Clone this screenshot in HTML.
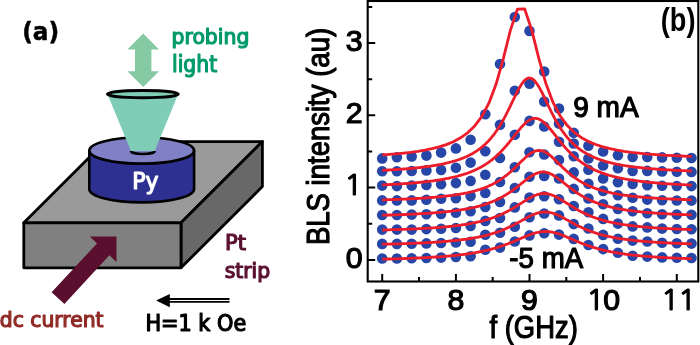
<!DOCTYPE html>
<html><head><meta charset="utf-8"><style>
html,body{margin:0;padding:0;background:#fff;width:700px;height:345px;overflow:hidden}
svg{display:block}
.ta{font-family:"DejaVu Sans Condensed","DejaVu Sans",sans-serif;font-stretch:condensed}
.ar{font-family:"Liberation Sans",Arial,sans-serif}
</style></head><body>
<svg width="700" height="345" viewBox="0 0 700 345">
<!-- ===== panel (a) ===== -->
<!-- box -->
<g stroke="#000" stroke-width="2.8" stroke-linejoin="round">
<polygon points="23.8,222.8 181,222.8 262.4,141.6 105.2,141.6" fill="#9a9a9a"/>
<polygon points="181,222.8 262.4,141.6 262.4,186.6 181,267.8" fill="#686868"/>
<rect x="23.8" y="222.8" width="157.2" height="45" fill="#808080"/>
</g>
<!-- cylinder -->
<g stroke="#000" stroke-width="2.6">
<path d="M89.3,150.4 A52.4,13.1 0 0 0 194.1,150.4 V189.3 A52.4,13.1 0 0 1 89.3,189.3 Z" fill="#2d3090"/>
<ellipse cx="141.7" cy="150.4" rx="52.4" ry="13.1" fill="#8080c6"/>
</g>
<!-- cone -->
<polygon points="107.4,94.1 178.3,94.1 154.75,151 130.95,151" fill="#7fcdb6"/>
<path d="M130.95,151 A11.9,3 0 0 0 154.75,151" fill="none" stroke="#000" stroke-width="2.6"/>
<ellipse cx="142.85" cy="94.1" rx="35.45" ry="3.7" fill="#7fcdb6" stroke="#000" stroke-width="3"/>
<!-- double arrow -->
<polygon points="143.2,33.5 159,49.4 151.4,49.4 151.4,71.3 159,71.3 143.2,87 127.4,71.3 135,71.3 135,49.4 127.4,49.4" fill="#86caa4"/>
<!-- dc arrow -->
<polygon points="116.5,236.6 89.9,236.6 97,243.4 51.6,292.3 64.4,303.9 109.4,255.3 116.5,262.1" fill="#5a0f2e"/>
<!-- H arrow -->
<polygon points="156.1,300.6 169.8,294.1 169.8,307.3" fill="#000"/>
<path d="M168,299 H229.5 M168,301.9 H229.5" stroke="#000" stroke-width="1.8"/>

<!-- ===== panel (b) ===== -->
<g fill="#2747a8">
<circle cx="382.2" cy="158.4" r="5.3"/>
<circle cx="396.9" cy="157.2" r="5.3"/>
<circle cx="411.7" cy="156.5" r="5.3"/>
<circle cx="426.4" cy="155.6" r="5.3"/>
<circle cx="441.1" cy="152.6" r="5.3"/>
<circle cx="455.9" cy="148.4" r="5.3"/>
<circle cx="470.6" cy="139.8" r="5.3"/>
<circle cx="485.3" cy="114.3" r="5.3"/>
<circle cx="500.0" cy="64.0" r="5.3"/>
<circle cx="514.8" cy="17.0" r="5.3"/>
<circle cx="529.5" cy="30.9" r="5.3"/>
<circle cx="544.2" cy="71.6" r="5.3"/>
<circle cx="559.0" cy="108.5" r="5.3"/>
<circle cx="573.7" cy="132.7" r="5.3"/>
<circle cx="588.4" cy="145.8" r="5.3"/>
<circle cx="603.1" cy="151.5" r="5.3"/>
<circle cx="617.9" cy="155.2" r="5.3"/>
<circle cx="632.6" cy="157.0" r="5.3"/>
<circle cx="647.3" cy="157.0" r="5.3"/>
<circle cx="662.1" cy="157.4" r="5.3"/>
<circle cx="676.8" cy="157.7" r="5.3"/>
<circle cx="691.5" cy="158.0" r="5.3"/>
<circle cx="382.2" cy="171.3" r="5.3"/>
<circle cx="396.9" cy="171.3" r="5.3"/>
<circle cx="411.7" cy="171.0" r="5.3"/>
<circle cx="426.4" cy="170.4" r="5.3"/>
<circle cx="441.1" cy="169.9" r="5.3"/>
<circle cx="455.9" cy="167.8" r="5.3"/>
<circle cx="470.6" cy="162.6" r="5.3"/>
<circle cx="485.3" cy="151.3" r="5.3"/>
<circle cx="500.0" cy="124.8" r="5.3"/>
<circle cx="514.8" cy="90.8" r="5.3"/>
<circle cx="529.5" cy="83.8" r="5.3"/>
<circle cx="544.2" cy="101.6" r="5.3"/>
<circle cx="559.0" cy="123.6" r="5.3"/>
<circle cx="573.7" cy="143.5" r="5.3"/>
<circle cx="588.4" cy="158.5" r="5.3"/>
<circle cx="603.1" cy="165.5" r="5.3"/>
<circle cx="617.9" cy="168.3" r="5.3"/>
<circle cx="632.6" cy="170.9" r="5.3"/>
<circle cx="647.3" cy="170.9" r="5.3"/>
<circle cx="662.1" cy="171.4" r="5.3"/>
<circle cx="676.8" cy="171.7" r="5.3"/>
<circle cx="691.5" cy="171.9" r="5.3"/>
<circle cx="382.2" cy="185.6" r="5.3"/>
<circle cx="396.9" cy="186.1" r="5.3"/>
<circle cx="411.7" cy="185.6" r="5.3"/>
<circle cx="426.4" cy="184.9" r="5.3"/>
<circle cx="441.1" cy="184.3" r="5.3"/>
<circle cx="455.9" cy="183.1" r="5.3"/>
<circle cx="470.6" cy="180.9" r="5.3"/>
<circle cx="485.3" cy="174.8" r="5.3"/>
<circle cx="500.0" cy="158.0" r="5.3"/>
<circle cx="514.8" cy="134.8" r="5.3"/>
<circle cx="529.5" cy="120.9" r="5.3"/>
<circle cx="544.2" cy="126.5" r="5.3"/>
<circle cx="559.0" cy="141.7" r="5.3"/>
<circle cx="573.7" cy="156.2" r="5.3"/>
<circle cx="588.4" cy="169.8" r="5.3"/>
<circle cx="603.1" cy="178.5" r="5.3"/>
<circle cx="617.9" cy="182.2" r="5.3"/>
<circle cx="632.6" cy="183.9" r="5.3"/>
<circle cx="647.3" cy="185.3" r="5.3"/>
<circle cx="662.1" cy="185.8" r="5.3"/>
<circle cx="676.8" cy="186.0" r="5.3"/>
<circle cx="691.5" cy="186.1" r="5.3"/>
<circle cx="382.2" cy="200.4" r="5.3"/>
<circle cx="396.9" cy="200.4" r="5.3"/>
<circle cx="411.7" cy="200.4" r="5.3"/>
<circle cx="426.4" cy="199.8" r="5.3"/>
<circle cx="441.1" cy="198.7" r="5.3"/>
<circle cx="455.9" cy="198.3" r="5.3"/>
<circle cx="470.6" cy="196.1" r="5.3"/>
<circle cx="485.3" cy="193.0" r="5.3"/>
<circle cx="500.0" cy="182.0" r="5.3"/>
<circle cx="514.8" cy="167.2" r="5.3"/>
<circle cx="529.5" cy="152.2" r="5.3"/>
<circle cx="544.2" cy="154.5" r="5.3"/>
<circle cx="559.0" cy="160.0" r="5.3"/>
<circle cx="573.7" cy="172.4" r="5.3"/>
<circle cx="588.4" cy="183.7" r="5.3"/>
<circle cx="603.1" cy="190.9" r="5.3"/>
<circle cx="617.9" cy="195.2" r="5.3"/>
<circle cx="632.6" cy="197.8" r="5.3"/>
<circle cx="647.3" cy="199.6" r="5.3"/>
<circle cx="662.1" cy="200.2" r="5.3"/>
<circle cx="676.8" cy="200.5" r="5.3"/>
<circle cx="691.5" cy="200.6" r="5.3"/>
<circle cx="382.2" cy="215.0" r="5.3"/>
<circle cx="396.9" cy="215.0" r="5.3"/>
<circle cx="411.7" cy="214.6" r="5.3"/>
<circle cx="426.4" cy="214.3" r="5.3"/>
<circle cx="441.1" cy="213.9" r="5.3"/>
<circle cx="455.9" cy="212.8" r="5.3"/>
<circle cx="470.6" cy="211.3" r="5.3"/>
<circle cx="485.3" cy="207.0" r="5.3"/>
<circle cx="500.0" cy="202.0" r="5.3"/>
<circle cx="514.8" cy="188.0" r="5.3"/>
<circle cx="529.5" cy="176.7" r="5.3"/>
<circle cx="544.2" cy="175.9" r="5.3"/>
<circle cx="559.0" cy="178.5" r="5.3"/>
<circle cx="573.7" cy="188.9" r="5.3"/>
<circle cx="588.4" cy="198.5" r="5.3"/>
<circle cx="603.1" cy="204.3" r="5.3"/>
<circle cx="617.9" cy="208.9" r="5.3"/>
<circle cx="632.6" cy="211.3" r="5.3"/>
<circle cx="647.3" cy="213.2" r="5.3"/>
<circle cx="662.1" cy="214.2" r="5.3"/>
<circle cx="676.8" cy="214.6" r="5.3"/>
<circle cx="691.5" cy="214.8" r="5.3"/>
<circle cx="382.2" cy="229.6" r="5.3"/>
<circle cx="396.9" cy="229.6" r="5.3"/>
<circle cx="411.7" cy="229.6" r="5.3"/>
<circle cx="426.4" cy="229.1" r="5.3"/>
<circle cx="441.1" cy="228.7" r="5.3"/>
<circle cx="455.9" cy="228.0" r="5.3"/>
<circle cx="470.6" cy="225.9" r="5.3"/>
<circle cx="485.3" cy="220.9" r="5.3"/>
<circle cx="500.0" cy="218.0" r="5.3"/>
<circle cx="514.8" cy="207.4" r="5.3"/>
<circle cx="529.5" cy="197.6" r="5.3"/>
<circle cx="544.2" cy="196.3" r="5.3"/>
<circle cx="559.0" cy="199.3" r="5.3"/>
<circle cx="573.7" cy="206.0" r="5.3"/>
<circle cx="588.4" cy="212.2" r="5.3"/>
<circle cx="603.1" cy="218.9" r="5.3"/>
<circle cx="617.9" cy="223.6" r="5.3"/>
<circle cx="632.6" cy="226.4" r="5.3"/>
<circle cx="647.3" cy="227.4" r="5.3"/>
<circle cx="662.1" cy="228.6" r="5.3"/>
<circle cx="676.8" cy="229.0" r="5.3"/>
<circle cx="691.5" cy="229.2" r="5.3"/>
<circle cx="382.2" cy="243.9" r="5.3"/>
<circle cx="396.9" cy="243.9" r="5.3"/>
<circle cx="411.7" cy="243.7" r="5.3"/>
<circle cx="426.4" cy="243.4" r="5.3"/>
<circle cx="441.1" cy="243.0" r="5.3"/>
<circle cx="455.9" cy="242.5" r="5.3"/>
<circle cx="470.6" cy="241.7" r="5.3"/>
<circle cx="485.3" cy="234.8" r="5.3"/>
<circle cx="500.0" cy="232.8" r="5.3"/>
<circle cx="514.8" cy="226.7" r="5.3"/>
<circle cx="529.5" cy="217.2" r="5.3"/>
<circle cx="544.2" cy="213.5" r="5.3"/>
<circle cx="559.0" cy="215.4" r="5.3"/>
<circle cx="573.7" cy="224.1" r="5.3"/>
<circle cx="588.4" cy="228.5" r="5.3"/>
<circle cx="603.1" cy="234.9" r="5.3"/>
<circle cx="617.9" cy="238.7" r="5.3"/>
<circle cx="632.6" cy="240.6" r="5.3"/>
<circle cx="647.3" cy="241.5" r="5.3"/>
<circle cx="662.1" cy="242.8" r="5.3"/>
<circle cx="676.8" cy="243.3" r="5.3"/>
<circle cx="691.5" cy="243.6" r="5.3"/>
<circle cx="382.2" cy="258.5" r="5.3"/>
<circle cx="396.9" cy="258.5" r="5.3"/>
<circle cx="411.7" cy="258.3" r="5.3"/>
<circle cx="426.4" cy="258.0" r="5.3"/>
<circle cx="441.1" cy="257.6" r="5.3"/>
<circle cx="455.9" cy="257.0" r="5.3"/>
<circle cx="470.6" cy="256.3" r="5.3"/>
<circle cx="485.3" cy="249.8" r="5.3"/>
<circle cx="500.0" cy="247.6" r="5.3"/>
<circle cx="514.8" cy="241.5" r="5.3"/>
<circle cx="529.5" cy="235.4" r="5.3"/>
<circle cx="544.2" cy="233.2" r="5.3"/>
<circle cx="559.0" cy="234.6" r="5.3"/>
<circle cx="573.7" cy="238.9" r="5.3"/>
<circle cx="588.4" cy="245.0" r="5.3"/>
<circle cx="603.1" cy="249.1" r="5.3"/>
<circle cx="617.9" cy="252.8" r="5.3"/>
<circle cx="632.6" cy="255.7" r="5.3"/>
<circle cx="647.3" cy="256.6" r="5.3"/>
<circle cx="662.1" cy="257.4" r="5.3"/>
<circle cx="676.8" cy="257.8" r="5.3"/>
<circle cx="691.5" cy="258.0" r="5.3"/>
</g>
<g fill="none" stroke="#ec1c2a" stroke-width="2.8" stroke-linejoin="round">
<path d="M382.2,154.9 L389.3,154.4 L396.4,153.8 L403.6,153.1 L410.7,152.3 L417.8,151.3 L424.9,150.1 L432.0,148.7 L439.1,146.9 L446.3,144.6 L453.4,141.7 L460.5,137.8 L467.6,132.8 L474.7,125.9 L481.9,116.3 L489.0,102.9 L496.1,84.1 L503.2,59.1 L510.3,30.6 L517.4,9.1 L524.6,8.8 L531.7,29.9 L538.8,58.4 L545.9,83.5 L553.0,102.4 L560.2,116.0 L567.3,125.6 L574.4,132.6 L581.5,137.7 L588.6,141.6 L595.7,144.5 L602.9,146.8 L610.0,148.6 L617.1,150.1 L624.2,151.3 L631.3,152.3 L638.4,153.1 L645.6,153.8 L652.7,154.3 L659.8,154.8 L666.9,155.3 L674.0,155.7 L681.2,156.0 L688.3,156.3 L691.9,156.4"/>
<path d="M382.2,170.3 L383.2,170.3 L384.2,170.2 L385.2,170.2 L386.2,170.1 L387.2,170.1 L388.2,170.0 L389.2,170.0 L390.2,169.9 L391.2,169.8 L392.2,169.8 L393.2,169.7 L394.2,169.7 L395.2,169.6 L396.2,169.5 L397.2,169.5 L398.2,169.4 L399.2,169.3 L400.2,169.3 L401.2,169.2 L402.2,169.1 L403.2,169.0 L404.2,169.0 L405.2,168.9 L406.2,168.8 L407.2,168.7 L408.2,168.6 L409.2,168.6 L410.2,168.5 L411.2,168.4 L412.2,168.3 L413.2,168.2 L414.2,168.1 L415.2,168.0 L416.2,167.9 L417.2,167.8 L418.2,167.7 L419.2,167.6 L420.2,167.5 L421.2,167.4 L422.2,167.2 L423.2,167.1 L424.2,167.0 L425.2,166.9 L426.2,166.7 L427.2,166.6 L428.2,166.5 L429.2,166.3 L430.2,166.2 L431.2,166.0 L432.2,165.9 L433.2,165.7 L434.2,165.6 L435.2,165.4 L436.2,165.2 L437.2,165.0 L438.2,164.9 L439.2,164.7 L440.2,164.5 L441.2,164.3 L442.2,164.1 L443.2,163.9 L444.2,163.7 L445.2,163.4 L446.2,163.2 L447.2,163.0 L448.2,162.7 L449.2,162.5 L450.2,162.2 L451.2,162.0 L452.2,161.7 L453.2,161.4 L454.2,161.1 L455.2,160.8 L456.2,160.5 L457.2,160.2 L458.2,159.8 L459.2,159.5 L460.2,159.1 L461.2,158.7 L462.2,158.4 L463.2,158.0 L464.2,157.5 L465.2,157.1 L466.2,156.7 L467.2,156.2 L468.2,155.7 L469.2,155.2 L470.2,154.7 L471.2,154.2 L472.2,153.7 L473.2,153.1 L474.2,152.5 L475.2,151.9 L476.2,151.2 L477.2,150.6 L478.2,149.9 L479.2,149.1 L480.2,148.4 L481.2,147.6 L482.2,146.8 L483.2,145.9 L484.2,145.1 L485.2,144.2 L486.2,143.2 L487.2,142.2 L488.2,141.2 L489.2,140.1 L490.2,139.0 L491.2,137.8 L492.2,136.6 L493.2,135.4 L494.2,134.1 L495.2,132.7 L496.2,131.3 L497.2,129.9 L498.2,128.3 L499.2,126.8 L500.2,125.2 L501.2,123.5 L502.2,121.8 L503.2,120.0 L504.2,118.2 L505.2,116.3 L506.2,114.4 L507.2,112.4 L508.2,110.4 L509.2,108.3 L510.2,106.3 L511.2,104.2 L512.2,102.1 L513.2,100.0 L514.2,97.9 L515.2,95.8 L516.2,93.8 L517.2,91.8 L518.2,89.9 L519.2,88.1 L520.2,86.4 L521.2,84.8 L522.2,83.3 L523.2,82.0 L524.2,80.8 L525.2,79.9 L526.2,79.1 L527.2,78.5 L528.2,78.1 L529.2,78.0 L530.2,78.1 L531.2,78.3 L532.2,78.8 L533.2,79.5 L534.2,80.4 L535.2,81.5 L536.2,82.8 L537.2,84.2 L538.2,85.7 L539.2,87.4 L540.2,89.2 L541.2,91.1 L542.2,93.0 L543.2,95.0 L544.2,97.1 L545.2,99.1 L546.2,101.2 L547.2,103.3 L548.2,105.4 L549.2,107.5 L550.2,109.6 L551.2,111.6 L552.2,113.6 L553.2,115.5 L554.2,117.4 L555.2,119.3 L556.2,121.1 L557.2,122.8 L558.2,124.5 L559.2,126.1 L560.2,127.7 L561.2,129.3 L562.2,130.7 L563.2,132.2 L564.2,133.5 L565.2,134.9 L566.2,136.1 L567.2,137.4 L568.2,138.5 L569.2,139.7 L570.2,140.8 L571.2,141.8 L572.2,142.8 L573.2,143.8 L574.2,144.7 L575.2,145.6 L576.2,146.5 L577.2,147.3 L578.2,148.1 L579.2,148.8 L580.2,149.6 L581.2,150.3 L582.2,151.0 L583.2,151.6 L584.2,152.2 L585.2,152.8 L586.2,153.4 L587.2,154.0 L588.2,154.5 L589.2,155.0 L590.2,155.5 L591.2,156.0 L592.2,156.5 L593.2,156.9 L594.2,157.4 L595.2,157.8 L596.2,158.2 L597.2,158.6 L598.2,159.0 L599.2,159.3 L600.2,159.7 L601.2,160.0 L602.2,160.4 L603.2,160.7 L604.2,161.0 L605.2,161.3 L606.2,161.6 L607.2,161.8 L608.2,162.1 L609.2,162.4 L610.2,162.6 L611.2,162.9 L612.2,163.1 L613.2,163.4 L614.2,163.6 L615.2,163.8 L616.2,164.0 L617.2,164.2 L618.2,164.4 L619.2,164.6 L620.2,164.8 L621.2,165.0 L622.2,165.2 L623.2,165.3 L624.2,165.5 L625.2,165.7 L626.2,165.8 L627.2,166.0 L628.2,166.1 L629.2,166.3 L630.2,166.4 L631.2,166.5 L632.2,166.7 L633.2,166.8 L634.2,166.9 L635.2,167.1 L636.2,167.2 L637.2,167.3 L638.2,167.4 L639.2,167.5 L640.2,167.6 L641.2,167.7 L642.2,167.9 L643.2,168.0 L644.2,168.1 L645.2,168.2 L646.2,168.2 L647.2,168.3 L648.2,168.4 L649.2,168.5 L650.2,168.6 L651.2,168.7 L652.2,168.8 L653.2,168.9 L654.2,168.9 L655.2,169.0 L656.2,169.1 L657.2,169.2 L658.2,169.2 L659.2,169.3 L660.2,169.4 L661.2,169.4 L662.2,169.5 L663.2,169.6 L664.2,169.6 L665.2,169.7 L666.2,169.8 L667.2,169.8 L668.2,169.9 L669.2,169.9 L670.2,170.0 L671.2,170.1 L672.2,170.1 L673.2,170.2 L674.2,170.2 L675.2,170.3 L676.2,170.3 L677.2,170.4 L678.2,170.4 L679.2,170.5 L680.2,170.5 L681.2,170.5 L682.2,170.6 L683.2,170.6 L684.2,170.7 L685.2,170.7 L686.2,170.8 L687.2,170.8 L688.2,170.8 L689.2,170.9 L690.2,170.9 L691.2,171.0 L691.9,171.0"/>
<path d="M382.2,184.9 L383.2,184.9 L384.2,184.8 L385.2,184.8 L386.2,184.7 L387.2,184.7 L388.2,184.6 L389.2,184.6 L390.2,184.5 L391.2,184.5 L392.2,184.4 L393.2,184.4 L394.2,184.3 L395.2,184.2 L396.2,184.2 L397.2,184.1 L398.2,184.1 L399.2,184.0 L400.2,183.9 L401.2,183.9 L402.2,183.8 L403.2,183.7 L404.2,183.7 L405.2,183.6 L406.2,183.5 L407.2,183.5 L408.2,183.4 L409.2,183.3 L410.2,183.2 L411.2,183.1 L412.2,183.1 L413.2,183.0 L414.2,182.9 L415.2,182.8 L416.2,182.7 L417.2,182.6 L418.2,182.5 L419.2,182.4 L420.2,182.3 L421.2,182.2 L422.2,182.1 L423.2,182.0 L424.2,181.9 L425.2,181.8 L426.2,181.7 L427.2,181.6 L428.2,181.5 L429.2,181.3 L430.2,181.2 L431.2,181.1 L432.2,181.0 L433.2,180.8 L434.2,180.7 L435.2,180.5 L436.2,180.4 L437.2,180.2 L438.2,180.1 L439.2,179.9 L440.2,179.8 L441.2,179.6 L442.2,179.4 L443.2,179.3 L444.2,179.1 L445.2,178.9 L446.2,178.7 L447.2,178.5 L448.2,178.3 L449.2,178.1 L450.2,177.9 L451.2,177.7 L452.2,177.5 L453.2,177.2 L454.2,177.0 L455.2,176.8 L456.2,176.5 L457.2,176.3 L458.2,176.0 L459.2,175.7 L460.2,175.4 L461.2,175.1 L462.2,174.8 L463.2,174.5 L464.2,174.2 L465.2,173.9 L466.2,173.6 L467.2,173.2 L468.2,172.8 L469.2,172.5 L470.2,172.1 L471.2,171.7 L472.2,171.3 L473.2,170.9 L474.2,170.4 L475.2,170.0 L476.2,169.5 L477.2,169.0 L478.2,168.5 L479.2,168.0 L480.2,167.5 L481.2,166.9 L482.2,166.4 L483.2,165.8 L484.2,165.2 L485.2,164.6 L486.2,163.9 L487.2,163.3 L488.2,162.6 L489.2,161.9 L490.2,161.1 L491.2,160.4 L492.2,159.6 L493.2,158.8 L494.2,157.9 L495.2,157.1 L496.2,156.2 L497.2,155.3 L498.2,154.3 L499.2,153.4 L500.2,152.4 L501.2,151.4 L502.2,150.3 L503.2,149.2 L504.2,148.1 L505.2,147.0 L506.2,145.9 L507.2,144.7 L508.2,143.5 L509.2,142.3 L510.2,141.0 L511.2,139.8 L512.2,138.5 L513.2,137.3 L514.2,136.0 L515.2,134.7 L516.2,133.5 L517.2,132.2 L518.2,131.0 L519.2,129.8 L520.2,128.6 L521.2,127.4 L522.2,126.3 L523.2,125.2 L524.2,124.2 L525.2,123.2 L526.2,122.3 L527.2,121.5 L528.2,120.8 L529.2,120.2 L530.2,119.6 L531.2,119.1 L532.2,118.8 L533.2,118.5 L534.2,118.4 L535.2,118.4 L536.2,118.4 L537.2,118.6 L538.2,118.9 L539.2,119.3 L540.2,119.8 L541.2,120.4 L542.2,121.1 L543.2,121.8 L544.2,122.7 L545.2,123.6 L546.2,124.6 L547.2,125.6 L548.2,126.7 L549.2,127.9 L550.2,129.0 L551.2,130.2 L552.2,131.5 L553.2,132.7 L554.2,134.0 L555.2,135.2 L556.2,136.5 L557.2,137.8 L558.2,139.0 L559.2,140.3 L560.2,141.5 L561.2,142.8 L562.2,144.0 L563.2,145.2 L564.2,146.3 L565.2,147.5 L566.2,148.6 L567.2,149.7 L568.2,150.7 L569.2,151.8 L570.2,152.8 L571.2,153.8 L572.2,154.7 L573.2,155.6 L574.2,156.5 L575.2,157.4 L576.2,158.3 L577.2,159.1 L578.2,159.9 L579.2,160.7 L580.2,161.4 L581.2,162.1 L582.2,162.8 L583.2,163.5 L584.2,164.2 L585.2,164.8 L586.2,165.4 L587.2,166.0 L588.2,166.6 L589.2,167.2 L590.2,167.7 L591.2,168.2 L592.2,168.7 L593.2,169.2 L594.2,169.7 L595.2,170.2 L596.2,170.6 L597.2,171.0 L598.2,171.4 L599.2,171.9 L600.2,172.2 L601.2,172.6 L602.2,173.0 L603.2,173.3 L604.2,173.7 L605.2,174.0 L606.2,174.3 L607.2,174.7 L608.2,175.0 L609.2,175.3 L610.2,175.5 L611.2,175.8 L612.2,176.1 L613.2,176.4 L614.2,176.6 L615.2,176.9 L616.2,177.1 L617.2,177.3 L618.2,177.6 L619.2,177.8 L620.2,178.0 L621.2,178.2 L622.2,178.4 L623.2,178.6 L624.2,178.8 L625.2,179.0 L626.2,179.2 L627.2,179.3 L628.2,179.5 L629.2,179.7 L630.2,179.8 L631.2,180.0 L632.2,180.2 L633.2,180.3 L634.2,180.5 L635.2,180.6 L636.2,180.7 L637.2,180.9 L638.2,181.0 L639.2,181.1 L640.2,181.3 L641.2,181.4 L642.2,181.5 L643.2,181.6 L644.2,181.7 L645.2,181.8 L646.2,182.0 L647.2,182.1 L648.2,182.2 L649.2,182.3 L650.2,182.4 L651.2,182.5 L652.2,182.6 L653.2,182.7 L654.2,182.7 L655.2,182.8 L656.2,182.9 L657.2,183.0 L658.2,183.1 L659.2,183.2 L660.2,183.3 L661.2,183.3 L662.2,183.4 L663.2,183.5 L664.2,183.6 L665.2,183.6 L666.2,183.7 L667.2,183.8 L668.2,183.8 L669.2,183.9 L670.2,184.0 L671.2,184.0 L672.2,184.1 L673.2,184.1 L674.2,184.2 L675.2,184.3 L676.2,184.3 L677.2,184.4 L678.2,184.4 L679.2,184.5 L680.2,184.5 L681.2,184.6 L682.2,184.6 L683.2,184.7 L684.2,184.7 L685.2,184.8 L686.2,184.8 L687.2,184.9 L688.2,184.9 L689.2,185.0 L690.2,185.0 L691.2,185.1 L691.9,185.1"/>
<path d="M382.2,199.9 L383.2,199.9 L384.2,199.8 L385.2,199.8 L386.2,199.8 L387.2,199.7 L388.2,199.7 L389.2,199.7 L390.2,199.6 L391.2,199.6 L392.2,199.6 L393.2,199.5 L394.2,199.5 L395.2,199.5 L396.2,199.4 L397.2,199.4 L398.2,199.4 L399.2,199.3 L400.2,199.3 L401.2,199.2 L402.2,199.2 L403.2,199.2 L404.2,199.1 L405.2,199.1 L406.2,199.0 L407.2,199.0 L408.2,198.9 L409.2,198.9 L410.2,198.8 L411.2,198.8 L412.2,198.7 L413.2,198.7 L414.2,198.6 L415.2,198.6 L416.2,198.5 L417.2,198.5 L418.2,198.4 L419.2,198.4 L420.2,198.3 L421.2,198.2 L422.2,198.2 L423.2,198.1 L424.2,198.0 L425.2,198.0 L426.2,197.9 L427.2,197.8 L428.2,197.8 L429.2,197.7 L430.2,197.6 L431.2,197.5 L432.2,197.5 L433.2,197.4 L434.2,197.3 L435.2,197.2 L436.2,197.1 L437.2,197.0 L438.2,196.9 L439.2,196.8 L440.2,196.7 L441.2,196.6 L442.2,196.5 L443.2,196.4 L444.2,196.3 L445.2,196.2 L446.2,196.1 L447.2,196.0 L448.2,195.9 L449.2,195.7 L450.2,195.6 L451.2,195.5 L452.2,195.3 L453.2,195.2 L454.2,195.1 L455.2,194.9 L456.2,194.8 L457.2,194.6 L458.2,194.4 L459.2,194.3 L460.2,194.1 L461.2,193.9 L462.2,193.8 L463.2,193.6 L464.2,193.4 L465.2,193.2 L466.2,193.0 L467.2,192.8 L468.2,192.5 L469.2,192.3 L470.2,192.1 L471.2,191.8 L472.2,191.6 L473.2,191.3 L474.2,191.1 L475.2,190.8 L476.2,190.5 L477.2,190.2 L478.2,189.9 L479.2,189.6 L480.2,189.3 L481.2,188.9 L482.2,188.6 L483.2,188.2 L484.2,187.9 L485.2,187.5 L486.2,187.1 L487.2,186.7 L488.2,186.2 L489.2,185.8 L490.2,185.3 L491.2,184.9 L492.2,184.4 L493.2,183.9 L494.2,183.3 L495.2,182.8 L496.2,182.2 L497.2,181.6 L498.2,181.0 L499.2,180.4 L500.2,179.8 L501.2,179.1 L502.2,178.4 L503.2,177.7 L504.2,177.0 L505.2,176.2 L506.2,175.5 L507.2,174.7 L508.2,173.8 L509.2,173.0 L510.2,172.1 L511.2,171.2 L512.2,170.3 L513.2,169.4 L514.2,168.5 L515.2,167.5 L516.2,166.6 L517.2,165.6 L518.2,164.6 L519.2,163.6 L520.2,162.6 L521.2,161.6 L522.2,160.6 L523.2,159.7 L524.2,158.7 L525.2,157.8 L526.2,156.9 L527.2,156.0 L528.2,155.2 L529.2,154.4 L530.2,153.7 L531.2,153.1 L532.2,152.5 L533.2,151.9 L534.2,151.5 L535.2,151.1 L536.2,150.8 L537.2,150.6 L538.2,150.5 L539.2,150.5 L540.2,150.5 L541.2,150.7 L542.2,150.9 L543.2,151.2 L544.2,151.6 L545.2,152.1 L546.2,152.7 L547.2,153.3 L548.2,154.0 L549.2,154.7 L550.2,155.5 L551.2,156.4 L552.2,157.3 L553.2,158.2 L554.2,159.1 L555.2,160.1 L556.2,161.0 L557.2,162.0 L558.2,163.0 L559.2,164.0 L560.2,165.0 L561.2,166.0 L562.2,166.9 L563.2,167.9 L564.2,168.9 L565.2,169.8 L566.2,170.7 L567.2,171.6 L568.2,172.5 L569.2,173.3 L570.2,174.2 L571.2,175.0 L572.2,175.8 L573.2,176.5 L574.2,177.3 L575.2,178.0 L576.2,178.7 L577.2,179.4 L578.2,180.0 L579.2,180.7 L580.2,181.3 L581.2,181.9 L582.2,182.5 L583.2,183.0 L584.2,183.6 L585.2,184.1 L586.2,184.6 L587.2,185.1 L588.2,185.5 L589.2,186.0 L590.2,186.4 L591.2,186.8 L592.2,187.2 L593.2,187.6 L594.2,188.0 L595.2,188.4 L596.2,188.7 L597.2,189.1 L598.2,189.4 L599.2,189.7 L600.2,190.0 L601.2,190.3 L602.2,190.6 L603.2,190.9 L604.2,191.2 L605.2,191.4 L606.2,191.7 L607.2,191.9 L608.2,192.2 L609.2,192.4 L610.2,192.6 L611.2,192.8 L612.2,193.0 L613.2,193.3 L614.2,193.4 L615.2,193.6 L616.2,193.8 L617.2,194.0 L618.2,194.2 L619.2,194.3 L620.2,194.5 L621.2,194.7 L622.2,194.8 L623.2,195.0 L624.2,195.1 L625.2,195.3 L626.2,195.4 L627.2,195.5 L628.2,195.7 L629.2,195.8 L630.2,195.9 L631.2,196.0 L632.2,196.1 L633.2,196.3 L634.2,196.4 L635.2,196.5 L636.2,196.6 L637.2,196.7 L638.2,196.8 L639.2,196.9 L640.2,197.0 L641.2,197.1 L642.2,197.2 L643.2,197.2 L644.2,197.3 L645.2,197.4 L646.2,197.5 L647.2,197.6 L648.2,197.6 L649.2,197.7 L650.2,197.8 L651.2,197.9 L652.2,197.9 L653.2,198.0 L654.2,198.1 L655.2,198.1 L656.2,198.2 L657.2,198.3 L658.2,198.3 L659.2,198.4 L660.2,198.4 L661.2,198.5 L662.2,198.6 L663.2,198.6 L664.2,198.7 L665.2,198.7 L666.2,198.8 L667.2,198.8 L668.2,198.9 L669.2,198.9 L670.2,199.0 L671.2,199.0 L672.2,199.0 L673.2,199.1 L674.2,199.1 L675.2,199.2 L676.2,199.2 L677.2,199.3 L678.2,199.3 L679.2,199.3 L680.2,199.4 L681.2,199.4 L682.2,199.4 L683.2,199.5 L684.2,199.5 L685.2,199.6 L686.2,199.6 L687.2,199.6 L688.2,199.7 L689.2,199.7 L690.2,199.7 L691.2,199.8 L691.9,199.8"/>
<path d="M382.2,215.2 L383.2,215.2 L384.2,215.2 L385.2,215.2 L386.2,215.1 L387.2,215.1 L388.2,215.1 L389.2,215.0 L390.2,215.0 L391.2,215.0 L392.2,215.0 L393.2,214.9 L394.2,214.9 L395.2,214.9 L396.2,214.8 L397.2,214.8 L398.2,214.7 L399.2,214.7 L400.2,214.7 L401.2,214.6 L402.2,214.6 L403.2,214.6 L404.2,214.5 L405.2,214.5 L406.2,214.4 L407.2,214.4 L408.2,214.3 L409.2,214.3 L410.2,214.3 L411.2,214.2 L412.2,214.2 L413.2,214.1 L414.2,214.1 L415.2,214.0 L416.2,214.0 L417.2,213.9 L418.2,213.9 L419.2,213.8 L420.2,213.7 L421.2,213.7 L422.2,213.6 L423.2,213.6 L424.2,213.5 L425.2,213.4 L426.2,213.4 L427.2,213.3 L428.2,213.3 L429.2,213.2 L430.2,213.1 L431.2,213.0 L432.2,213.0 L433.2,212.9 L434.2,212.8 L435.2,212.7 L436.2,212.7 L437.2,212.6 L438.2,212.5 L439.2,212.4 L440.2,212.3 L441.2,212.2 L442.2,212.1 L443.2,212.0 L444.2,211.9 L445.2,211.8 L446.2,211.7 L447.2,211.6 L448.2,211.5 L449.2,211.4 L450.2,211.3 L451.2,211.2 L452.2,211.0 L453.2,210.9 L454.2,210.8 L455.2,210.7 L456.2,210.5 L457.2,210.4 L458.2,210.2 L459.2,210.1 L460.2,210.0 L461.2,209.8 L462.2,209.6 L463.2,209.5 L464.2,209.3 L465.2,209.1 L466.2,208.9 L467.2,208.8 L468.2,208.6 L469.2,208.4 L470.2,208.2 L471.2,208.0 L472.2,207.8 L473.2,207.5 L474.2,207.3 L475.2,207.1 L476.2,206.8 L477.2,206.6 L478.2,206.3 L479.2,206.1 L480.2,205.8 L481.2,205.5 L482.2,205.2 L483.2,204.9 L484.2,204.6 L485.2,204.3 L486.2,204.0 L487.2,203.6 L488.2,203.3 L489.2,202.9 L490.2,202.5 L491.2,202.1 L492.2,201.7 L493.2,201.3 L494.2,200.9 L495.2,200.5 L496.2,200.0 L497.2,199.5 L498.2,199.1 L499.2,198.6 L500.2,198.0 L501.2,197.5 L502.2,197.0 L503.2,196.4 L504.2,195.8 L505.2,195.2 L506.2,194.6 L507.2,194.0 L508.2,193.4 L509.2,192.7 L510.2,192.0 L511.2,191.3 L512.2,190.6 L513.2,189.9 L514.2,189.2 L515.2,188.4 L516.2,187.6 L517.2,186.9 L518.2,186.1 L519.2,185.3 L520.2,184.5 L521.2,183.7 L522.2,182.9 L523.2,182.1 L524.2,181.3 L525.2,180.5 L526.2,179.8 L527.2,179.0 L528.2,178.3 L529.2,177.5 L530.2,176.9 L531.2,176.2 L532.2,175.6 L533.2,175.0 L534.2,174.4 L535.2,173.9 L536.2,173.5 L537.2,173.1 L538.2,172.7 L539.2,172.5 L540.2,172.2 L541.2,172.1 L542.2,172.0 L543.2,172.0 L544.2,172.0 L545.2,172.2 L546.2,172.3 L547.2,172.6 L548.2,172.9 L549.2,173.2 L550.2,173.7 L551.2,174.1 L552.2,174.6 L553.2,175.2 L554.2,175.8 L555.2,176.5 L556.2,177.1 L557.2,177.8 L558.2,178.6 L559.2,179.3 L560.2,180.1 L561.2,180.9 L562.2,181.6 L563.2,182.4 L564.2,183.2 L565.2,184.0 L566.2,184.8 L567.2,185.6 L568.2,186.4 L569.2,187.2 L570.2,188.0 L571.2,188.7 L572.2,189.5 L573.2,190.2 L574.2,190.9 L575.2,191.6 L576.2,192.3 L577.2,193.0 L578.2,193.6 L579.2,194.2 L580.2,194.9 L581.2,195.5 L582.2,196.1 L583.2,196.6 L584.2,197.2 L585.2,197.7 L586.2,198.2 L587.2,198.8 L588.2,199.2 L589.2,199.7 L590.2,200.2 L591.2,200.6 L592.2,201.1 L593.2,201.5 L594.2,201.9 L595.2,202.3 L596.2,202.7 L597.2,203.0 L598.2,203.4 L599.2,203.8 L600.2,204.1 L601.2,204.4 L602.2,204.7 L603.2,205.0 L604.2,205.3 L605.2,205.6 L606.2,205.9 L607.2,206.2 L608.2,206.4 L609.2,206.7 L610.2,206.9 L611.2,207.2 L612.2,207.4 L613.2,207.6 L614.2,207.8 L615.2,208.1 L616.2,208.3 L617.2,208.5 L618.2,208.7 L619.2,208.8 L620.2,209.0 L621.2,209.2 L622.2,209.4 L623.2,209.5 L624.2,209.7 L625.2,209.9 L626.2,210.0 L627.2,210.2 L628.2,210.3 L629.2,210.4 L630.2,210.6 L631.2,210.7 L632.2,210.8 L633.2,211.0 L634.2,211.1 L635.2,211.2 L636.2,211.3 L637.2,211.4 L638.2,211.6 L639.2,211.7 L640.2,211.8 L641.2,211.9 L642.2,212.0 L643.2,212.1 L644.2,212.2 L645.2,212.3 L646.2,212.3 L647.2,212.4 L648.2,212.5 L649.2,212.6 L650.2,212.7 L651.2,212.8 L652.2,212.8 L653.2,212.9 L654.2,213.0 L655.2,213.1 L656.2,213.1 L657.2,213.2 L658.2,213.3 L659.2,213.3 L660.2,213.4 L661.2,213.5 L662.2,213.5 L663.2,213.6 L664.2,213.7 L665.2,213.7 L666.2,213.8 L667.2,213.8 L668.2,213.9 L669.2,213.9 L670.2,214.0 L671.2,214.0 L672.2,214.1 L673.2,214.1 L674.2,214.2 L675.2,214.2 L676.2,214.3 L677.2,214.3 L678.2,214.4 L679.2,214.4 L680.2,214.5 L681.2,214.5 L682.2,214.5 L683.2,214.6 L684.2,214.6 L685.2,214.7 L686.2,214.7 L687.2,214.7 L688.2,214.8 L689.2,214.8 L690.2,214.8 L691.2,214.9 L691.9,214.9"/>
<path d="M382.2,230.0 L383.2,230.0 L384.2,229.9 L385.2,229.9 L386.2,229.9 L387.2,229.9 L388.2,229.8 L389.2,229.8 L390.2,229.8 L391.2,229.7 L392.2,229.7 L393.2,229.7 L394.2,229.7 L395.2,229.6 L396.2,229.6 L397.2,229.6 L398.2,229.5 L399.2,229.5 L400.2,229.5 L401.2,229.4 L402.2,229.4 L403.2,229.4 L404.2,229.3 L405.2,229.3 L406.2,229.2 L407.2,229.2 L408.2,229.2 L409.2,229.1 L410.2,229.1 L411.2,229.0 L412.2,229.0 L413.2,228.9 L414.2,228.9 L415.2,228.9 L416.2,228.8 L417.2,228.8 L418.2,228.7 L419.2,228.7 L420.2,228.6 L421.2,228.6 L422.2,228.5 L423.2,228.4 L424.2,228.4 L425.2,228.3 L426.2,228.3 L427.2,228.2 L428.2,228.2 L429.2,228.1 L430.2,228.0 L431.2,228.0 L432.2,227.9 L433.2,227.8 L434.2,227.8 L435.2,227.7 L436.2,227.6 L437.2,227.5 L438.2,227.5 L439.2,227.4 L440.2,227.3 L441.2,227.2 L442.2,227.1 L443.2,227.0 L444.2,227.0 L445.2,226.9 L446.2,226.8 L447.2,226.7 L448.2,226.6 L449.2,226.5 L450.2,226.4 L451.2,226.3 L452.2,226.2 L453.2,226.0 L454.2,225.9 L455.2,225.8 L456.2,225.7 L457.2,225.6 L458.2,225.4 L459.2,225.3 L460.2,225.2 L461.2,225.0 L462.2,224.9 L463.2,224.7 L464.2,224.6 L465.2,224.4 L466.2,224.3 L467.2,224.1 L468.2,223.9 L469.2,223.8 L470.2,223.6 L471.2,223.4 L472.2,223.2 L473.2,223.0 L474.2,222.8 L475.2,222.6 L476.2,222.4 L477.2,222.2 L478.2,222.0 L479.2,221.7 L480.2,221.5 L481.2,221.3 L482.2,221.0 L483.2,220.7 L484.2,220.5 L485.2,220.2 L486.2,219.9 L487.2,219.6 L488.2,219.3 L489.2,219.0 L490.2,218.7 L491.2,218.3 L492.2,218.0 L493.2,217.7 L494.2,217.3 L495.2,216.9 L496.2,216.5 L497.2,216.1 L498.2,215.7 L499.2,215.3 L500.2,214.9 L501.2,214.4 L502.2,214.0 L503.2,213.5 L504.2,213.0 L505.2,212.5 L506.2,212.0 L507.2,211.5 L508.2,211.0 L509.2,210.5 L510.2,209.9 L511.2,209.3 L512.2,208.8 L513.2,208.2 L514.2,207.6 L515.2,207.0 L516.2,206.4 L517.2,205.7 L518.2,205.1 L519.2,204.5 L520.2,203.8 L521.2,203.2 L522.2,202.6 L523.2,201.9 L524.2,201.3 L525.2,200.7 L526.2,200.1 L527.2,199.5 L528.2,198.9 L529.2,198.3 L530.2,197.7 L531.2,197.2 L532.2,196.7 L533.2,196.2 L534.2,195.8 L535.2,195.3 L536.2,195.0 L537.2,194.6 L538.2,194.3 L539.2,194.1 L540.2,193.9 L541.2,193.7 L542.2,193.6 L543.2,193.5 L544.2,193.5 L545.2,193.5 L546.2,193.6 L547.2,193.8 L548.2,193.9 L549.2,194.2 L550.2,194.4 L551.2,194.8 L552.2,195.1 L553.2,195.5 L554.2,195.9 L555.2,196.4 L556.2,196.9 L557.2,197.4 L558.2,198.0 L559.2,198.5 L560.2,199.1 L561.2,199.7 L562.2,200.3 L563.2,200.9 L564.2,201.6 L565.2,202.2 L566.2,202.8 L567.2,203.5 L568.2,204.1 L569.2,204.7 L570.2,205.4 L571.2,206.0 L572.2,206.6 L573.2,207.2 L574.2,207.8 L575.2,208.4 L576.2,209.0 L577.2,209.6 L578.2,210.1 L579.2,210.7 L580.2,211.2 L581.2,211.7 L582.2,212.2 L583.2,212.7 L584.2,213.2 L585.2,213.7 L586.2,214.2 L587.2,214.6 L588.2,215.1 L589.2,215.5 L590.2,215.9 L591.2,216.3 L592.2,216.7 L593.2,217.1 L594.2,217.4 L595.2,217.8 L596.2,218.1 L597.2,218.5 L598.2,218.8 L599.2,219.1 L600.2,219.4 L601.2,219.7 L602.2,220.0 L603.2,220.3 L604.2,220.6 L605.2,220.8 L606.2,221.1 L607.2,221.4 L608.2,221.6 L609.2,221.8 L610.2,222.1 L611.2,222.3 L612.2,222.5 L613.2,222.7 L614.2,222.9 L615.2,223.1 L616.2,223.3 L617.2,223.5 L618.2,223.7 L619.2,223.8 L620.2,224.0 L621.2,224.2 L622.2,224.3 L623.2,224.5 L624.2,224.7 L625.2,224.8 L626.2,224.9 L627.2,225.1 L628.2,225.2 L629.2,225.4 L630.2,225.5 L631.2,225.6 L632.2,225.7 L633.2,225.9 L634.2,226.0 L635.2,226.1 L636.2,226.2 L637.2,226.3 L638.2,226.4 L639.2,226.5 L640.2,226.6 L641.2,226.7 L642.2,226.8 L643.2,226.9 L644.2,227.0 L645.2,227.1 L646.2,227.2 L647.2,227.2 L648.2,227.3 L649.2,227.4 L650.2,227.5 L651.2,227.6 L652.2,227.6 L653.2,227.7 L654.2,227.8 L655.2,227.9 L656.2,227.9 L657.2,228.0 L658.2,228.1 L659.2,228.1 L660.2,228.2 L661.2,228.2 L662.2,228.3 L663.2,228.4 L664.2,228.4 L665.2,228.5 L666.2,228.5 L667.2,228.6 L668.2,228.6 L669.2,228.7 L670.2,228.7 L671.2,228.8 L672.2,228.8 L673.2,228.9 L674.2,228.9 L675.2,229.0 L676.2,229.0 L677.2,229.1 L678.2,229.1 L679.2,229.1 L680.2,229.2 L681.2,229.2 L682.2,229.3 L683.2,229.3 L684.2,229.3 L685.2,229.4 L686.2,229.4 L687.2,229.4 L688.2,229.5 L689.2,229.5 L690.2,229.5 L691.2,229.6 L691.9,229.6"/>
<path d="M382.2,244.3 L383.2,244.2 L384.2,244.2 L385.2,244.2 L386.2,244.2 L387.2,244.1 L388.2,244.1 L389.2,244.1 L390.2,244.1 L391.2,244.0 L392.2,244.0 L393.2,244.0 L394.2,244.0 L395.2,243.9 L396.2,243.9 L397.2,243.9 L398.2,243.8 L399.2,243.8 L400.2,243.8 L401.2,243.8 L402.2,243.7 L403.2,243.7 L404.2,243.7 L405.2,243.6 L406.2,243.6 L407.2,243.5 L408.2,243.5 L409.2,243.5 L410.2,243.4 L411.2,243.4 L412.2,243.4 L413.2,243.3 L414.2,243.3 L415.2,243.2 L416.2,243.2 L417.2,243.1 L418.2,243.1 L419.2,243.1 L420.2,243.0 L421.2,243.0 L422.2,242.9 L423.2,242.9 L424.2,242.8 L425.2,242.8 L426.2,242.7 L427.2,242.7 L428.2,242.6 L429.2,242.5 L430.2,242.5 L431.2,242.4 L432.2,242.4 L433.2,242.3 L434.2,242.2 L435.2,242.2 L436.2,242.1 L437.2,242.1 L438.2,242.0 L439.2,241.9 L440.2,241.8 L441.2,241.8 L442.2,241.7 L443.2,241.6 L444.2,241.5 L445.2,241.5 L446.2,241.4 L447.2,241.3 L448.2,241.2 L449.2,241.1 L450.2,241.0 L451.2,240.9 L452.2,240.8 L453.2,240.7 L454.2,240.6 L455.2,240.5 L456.2,240.4 L457.2,240.3 L458.2,240.2 L459.2,240.1 L460.2,239.9 L461.2,239.8 L462.2,239.7 L463.2,239.6 L464.2,239.4 L465.2,239.3 L466.2,239.2 L467.2,239.0 L468.2,238.9 L469.2,238.7 L470.2,238.6 L471.2,238.4 L472.2,238.2 L473.2,238.1 L474.2,237.9 L475.2,237.7 L476.2,237.5 L477.2,237.3 L478.2,237.1 L479.2,236.9 L480.2,236.7 L481.2,236.5 L482.2,236.3 L483.2,236.0 L484.2,235.8 L485.2,235.6 L486.2,235.3 L487.2,235.1 L488.2,234.8 L489.2,234.5 L490.2,234.2 L491.2,234.0 L492.2,233.7 L493.2,233.4 L494.2,233.0 L495.2,232.7 L496.2,232.4 L497.2,232.0 L498.2,231.7 L499.2,231.3 L500.2,231.0 L501.2,230.6 L502.2,230.2 L503.2,229.8 L504.2,229.4 L505.2,228.9 L506.2,228.5 L507.2,228.1 L508.2,227.6 L509.2,227.1 L510.2,226.6 L511.2,226.2 L512.2,225.7 L513.2,225.2 L514.2,224.6 L515.2,224.1 L516.2,223.6 L517.2,223.1 L518.2,222.5 L519.2,222.0 L520.2,221.4 L521.2,220.9 L522.2,220.3 L523.2,219.8 L524.2,219.2 L525.2,218.7 L526.2,218.1 L527.2,217.6 L528.2,217.1 L529.2,216.6 L530.2,216.1 L531.2,215.6 L532.2,215.1 L533.2,214.7 L534.2,214.3 L535.2,213.9 L536.2,213.5 L537.2,213.2 L538.2,212.9 L539.2,212.7 L540.2,212.5 L541.2,212.3 L542.2,212.1 L543.2,212.0 L544.2,212.0 L545.2,212.0 L546.2,212.0 L547.2,212.1 L548.2,212.2 L549.2,212.3 L550.2,212.5 L551.2,212.8 L552.2,213.0 L553.2,213.3 L554.2,213.7 L555.2,214.0 L556.2,214.4 L557.2,214.9 L558.2,215.3 L559.2,215.8 L560.2,216.3 L561.2,216.8 L562.2,217.3 L563.2,217.8 L564.2,218.3 L565.2,218.9 L566.2,219.4 L567.2,220.0 L568.2,220.5 L569.2,221.1 L570.2,221.6 L571.2,222.2 L572.2,222.7 L573.2,223.3 L574.2,223.8 L575.2,224.3 L576.2,224.9 L577.2,225.4 L578.2,225.9 L579.2,226.4 L580.2,226.8 L581.2,227.3 L582.2,227.8 L583.2,228.2 L584.2,228.7 L585.2,229.1 L586.2,229.5 L587.2,229.9 L588.2,230.3 L589.2,230.7 L590.2,231.1 L591.2,231.5 L592.2,231.8 L593.2,232.2 L594.2,232.5 L595.2,232.8 L596.2,233.2 L597.2,233.5 L598.2,233.8 L599.2,234.1 L600.2,234.4 L601.2,234.6 L602.2,234.9 L603.2,235.2 L604.2,235.4 L605.2,235.7 L606.2,235.9 L607.2,236.1 L608.2,236.4 L609.2,236.6 L610.2,236.8 L611.2,237.0 L612.2,237.2 L613.2,237.4 L614.2,237.6 L615.2,237.8 L616.2,238.0 L617.2,238.1 L618.2,238.3 L619.2,238.5 L620.2,238.6 L621.2,238.8 L622.2,238.9 L623.2,239.1 L624.2,239.2 L625.2,239.4 L626.2,239.5 L627.2,239.6 L628.2,239.7 L629.2,239.9 L630.2,240.0 L631.2,240.1 L632.2,240.2 L633.2,240.3 L634.2,240.5 L635.2,240.6 L636.2,240.7 L637.2,240.8 L638.2,240.9 L639.2,241.0 L640.2,241.0 L641.2,241.1 L642.2,241.2 L643.2,241.3 L644.2,241.4 L645.2,241.5 L646.2,241.6 L647.2,241.6 L648.2,241.7 L649.2,241.8 L650.2,241.9 L651.2,241.9 L652.2,242.0 L653.2,242.1 L654.2,242.1 L655.2,242.2 L656.2,242.3 L657.2,242.3 L658.2,242.4 L659.2,242.5 L660.2,242.5 L661.2,242.6 L662.2,242.6 L663.2,242.7 L664.2,242.7 L665.2,242.8 L666.2,242.8 L667.2,242.9 L668.2,242.9 L669.2,243.0 L670.2,243.0 L671.2,243.1 L672.2,243.1 L673.2,243.2 L674.2,243.2 L675.2,243.3 L676.2,243.3 L677.2,243.3 L678.2,243.4 L679.2,243.4 L680.2,243.5 L681.2,243.5 L682.2,243.5 L683.2,243.6 L684.2,243.6 L685.2,243.6 L686.2,243.7 L687.2,243.7 L688.2,243.7 L689.2,243.8 L690.2,243.8 L691.2,243.8 L691.9,243.8"/>
<path d="M382.2,259.2 L383.2,259.2 L384.2,259.1 L385.2,259.1 L386.2,259.1 L387.2,259.1 L388.2,259.0 L389.2,259.0 L390.2,259.0 L391.2,258.9 L392.2,258.9 L393.2,258.9 L394.2,258.9 L395.2,258.8 L396.2,258.8 L397.2,258.8 L398.2,258.7 L399.2,258.7 L400.2,258.7 L401.2,258.6 L402.2,258.6 L403.2,258.6 L404.2,258.5 L405.2,258.5 L406.2,258.5 L407.2,258.4 L408.2,258.4 L409.2,258.4 L410.2,258.3 L411.2,258.3 L412.2,258.2 L413.2,258.2 L414.2,258.2 L415.2,258.1 L416.2,258.1 L417.2,258.0 L418.2,258.0 L419.2,257.9 L420.2,257.9 L421.2,257.8 L422.2,257.8 L423.2,257.7 L424.2,257.7 L425.2,257.6 L426.2,257.6 L427.2,257.5 L428.2,257.5 L429.2,257.4 L430.2,257.4 L431.2,257.3 L432.2,257.2 L433.2,257.2 L434.2,257.1 L435.2,257.0 L436.2,257.0 L437.2,256.9 L438.2,256.8 L439.2,256.8 L440.2,256.7 L441.2,256.6 L442.2,256.6 L443.2,256.5 L444.2,256.4 L445.2,256.3 L446.2,256.2 L447.2,256.1 L448.2,256.1 L449.2,256.0 L450.2,255.9 L451.2,255.8 L452.2,255.7 L453.2,255.6 L454.2,255.5 L455.2,255.4 L456.2,255.3 L457.2,255.2 L458.2,255.1 L459.2,254.9 L460.2,254.8 L461.2,254.7 L462.2,254.6 L463.2,254.5 L464.2,254.3 L465.2,254.2 L466.2,254.1 L467.2,253.9 L468.2,253.8 L469.2,253.6 L470.2,253.5 L471.2,253.3 L472.2,253.2 L473.2,253.0 L474.2,252.8 L475.2,252.7 L476.2,252.5 L477.2,252.3 L478.2,252.1 L479.2,251.9 L480.2,251.7 L481.2,251.5 L482.2,251.3 L483.2,251.1 L484.2,250.9 L485.2,250.7 L486.2,250.5 L487.2,250.2 L488.2,250.0 L489.2,249.7 L490.2,249.5 L491.2,249.2 L492.2,248.9 L493.2,248.7 L494.2,248.4 L495.2,248.1 L496.2,247.8 L497.2,247.5 L498.2,247.2 L499.2,246.9 L500.2,246.5 L501.2,246.2 L502.2,245.9 L503.2,245.5 L504.2,245.2 L505.2,244.8 L506.2,244.4 L507.2,244.1 L508.2,243.7 L509.2,243.3 L510.2,242.9 L511.2,242.5 L512.2,242.1 L513.2,241.7 L514.2,241.3 L515.2,240.8 L516.2,240.4 L517.2,240.0 L518.2,239.6 L519.2,239.1 L520.2,238.7 L521.2,238.3 L522.2,237.8 L523.2,237.4 L524.2,237.0 L525.2,236.6 L526.2,236.2 L527.2,235.8 L528.2,235.4 L529.2,235.0 L530.2,234.6 L531.2,234.3 L532.2,233.9 L533.2,233.6 L534.2,233.3 L535.2,233.0 L536.2,232.7 L537.2,232.5 L538.2,232.3 L539.2,232.1 L540.2,231.9 L541.2,231.8 L542.2,231.7 L543.2,231.6 L544.2,231.5 L545.2,231.5 L546.2,231.5 L547.2,231.5 L548.2,231.6 L549.2,231.7 L550.2,231.8 L551.2,232.0 L552.2,232.1 L553.2,232.4 L554.2,232.6 L555.2,232.8 L556.2,233.1 L557.2,233.4 L558.2,233.7 L559.2,234.0 L560.2,234.4 L561.2,234.8 L562.2,235.1 L563.2,235.5 L564.2,235.9 L565.2,236.3 L566.2,236.7 L567.2,237.2 L568.2,237.6 L569.2,238.0 L570.2,238.4 L571.2,238.9 L572.2,239.3 L573.2,239.7 L574.2,240.2 L575.2,240.6 L576.2,241.0 L577.2,241.4 L578.2,241.8 L579.2,242.3 L580.2,242.7 L581.2,243.1 L582.2,243.5 L583.2,243.8 L584.2,244.2 L585.2,244.6 L586.2,245.0 L587.2,245.3 L588.2,245.7 L589.2,246.0 L590.2,246.4 L591.2,246.7 L592.2,247.0 L593.2,247.3 L594.2,247.6 L595.2,247.9 L596.2,248.2 L597.2,248.5 L598.2,248.8 L599.2,249.1 L600.2,249.3 L601.2,249.6 L602.2,249.8 L603.2,250.1 L604.2,250.3 L605.2,250.5 L606.2,250.8 L607.2,251.0 L608.2,251.2 L609.2,251.4 L610.2,251.6 L611.2,251.8 L612.2,252.0 L613.2,252.2 L614.2,252.4 L615.2,252.6 L616.2,252.7 L617.2,252.9 L618.2,253.1 L619.2,253.2 L620.2,253.4 L621.2,253.5 L622.2,253.7 L623.2,253.8 L624.2,254.0 L625.2,254.1 L626.2,254.3 L627.2,254.4 L628.2,254.5 L629.2,254.6 L630.2,254.8 L631.2,254.9 L632.2,255.0 L633.2,255.1 L634.2,255.2 L635.2,255.3 L636.2,255.4 L637.2,255.5 L638.2,255.6 L639.2,255.7 L640.2,255.8 L641.2,255.9 L642.2,256.0 L643.2,256.1 L644.2,256.2 L645.2,256.3 L646.2,256.3 L647.2,256.4 L648.2,256.5 L649.2,256.6 L650.2,256.7 L651.2,256.7 L652.2,256.8 L653.2,256.9 L654.2,256.9 L655.2,257.0 L656.2,257.1 L657.2,257.1 L658.2,257.2 L659.2,257.3 L660.2,257.3 L661.2,257.4 L662.2,257.4 L663.2,257.5 L664.2,257.6 L665.2,257.6 L666.2,257.7 L667.2,257.7 L668.2,257.8 L669.2,257.8 L670.2,257.9 L671.2,257.9 L672.2,258.0 L673.2,258.0 L674.2,258.0 L675.2,258.1 L676.2,258.1 L677.2,258.2 L678.2,258.2 L679.2,258.3 L680.2,258.3 L681.2,258.3 L682.2,258.4 L683.2,258.4 L684.2,258.4 L685.2,258.5 L686.2,258.5 L687.2,258.6 L688.2,258.6 L689.2,258.6 L690.2,258.7 L691.2,258.7 L691.9,258.7"/>
</g>
<rect x="367.7" y="1" width="330.6" height="280.5" fill="none" stroke="#000" stroke-width="2.1"/>
<path d="M367.7,259.9h7.5 M367.7,187.6h7.5 M367.7,115.3h7.5 M367.7,43.0h7.5 M367.7,223.7h4.5 M367.7,151.4h4.5 M367.7,79.2h4.5 M367.7,6.9h4.5 M382.2,281.5v-7.5 M455.9,281.5v-7.5 M529.5,281.5v-7.5 M603.1,281.5v-7.5 M676.8,281.5v-7.5 M419.0,281.5v-4.5 M492.7,281.5v-4.5 M566.3,281.5v-4.5 M640.0,281.5v-4.5" stroke="#000" stroke-width="2" fill="none"/>
<text id="t_a" transform="translate(22.22,39.50) scale(0.9257,1)" font-family="'DejaVu Sans',sans-serif" font-size="25.10" font-weight="bold" fill="#000" stroke="#000" stroke-width="0.5" stroke-linejoin="round">(a)</text>
<text id="t_py" transform="translate(132.13,189.30) scale(1.0391,1)" font-family="'DejaVu Sans Condensed','DejaVu Sans',sans-serif" font-stretch="condensed" font-size="23.53" fill="#fff" stroke="#fff" stroke-width="1.15" stroke-linejoin="round">Py</text>
<text id="t_probing" transform="translate(171.56,43.68) scale(1.0454,1)" font-family="'DejaVu Sans Condensed','DejaVu Sans',sans-serif" font-stretch="condensed" font-size="21.71" fill="#009a6a" stroke="#009a6a" stroke-width="1.15" stroke-linejoin="round">probing</text>
<text id="t_light" transform="translate(172.03,72.15) scale(1.0194,1)" font-family="'DejaVu Sans Condensed','DejaVu Sans',sans-serif" font-stretch="condensed" font-size="22.19" fill="#009a6a" stroke="#009a6a" stroke-width="1.15" stroke-linejoin="round">light</text>
<text id="t_pt" transform="translate(225.04,249.58) scale(1.0815,1)" font-family="'DejaVu Sans Condensed','DejaVu Sans',sans-serif" font-stretch="condensed" font-size="21.68" fill="#5a0f2e" stroke="#5a0f2e" stroke-width="1.15" stroke-linejoin="round">Pt</text>
<text id="t_strip" transform="translate(224.64,277.81) scale(1.0894,1)" font-family="'DejaVu Sans Condensed','DejaVu Sans',sans-serif" font-stretch="condensed" font-size="20.74" fill="#5a0f2e" stroke="#5a0f2e" stroke-width="1.15" stroke-linejoin="round">strip</text>
<text id="t_dc" transform="translate(-0.22,326.54) scale(1.0414,1)" font-family="'DejaVu Sans Condensed','DejaVu Sans',sans-serif" font-stretch="condensed" font-size="21.70" fill="#912b27" stroke="#912b27" stroke-width="1.15" stroke-linejoin="round">dc current</text>
<text id="t_H" transform="translate(145.38,330.80) scale(1.0448,1)" font-family="'DejaVu Sans Condensed','DejaVu Sans',sans-serif" font-stretch="condensed" font-size="22.16" fill="#000" stroke="#000" stroke-width="1.15" stroke-linejoin="round">H=1 k Oe</text>
<text id="t_fghz" transform="translate(489.51,337.90) scale(0.8601,1)" font-family="'Liberation Sans',Arial,sans-serif" font-size="31.87" fill="#000" stroke="#000" stroke-width="1.2" stroke-linejoin="round">f (GHz)</text>
<text id="t_bls" transform="translate(328.51,245.08) rotate(-90) scale(0.9040,1)" font-family="'Liberation Sans',Arial,sans-serif" font-size="30.45" fill="#000" stroke="#000" stroke-width="1.2" stroke-linejoin="round">BLS intensity (au)</text>
<text id="t_9ma" transform="translate(573.14,117.12) scale(0.9577,1)" font-family="'Liberation Sans',Arial,sans-serif" font-size="29.32" fill="#000" stroke="#000" stroke-width="1.2" stroke-linejoin="round">9 mA</text>
<text id="t_5ma" transform="translate(509.36,267.78) scale(0.9483,1)" font-family="'Liberation Sans',Arial,sans-serif" font-size="29.18" fill="#000" stroke="#000" stroke-width="1.2" stroke-linejoin="round">-5 mA</text>
<text id="t_b" transform="translate(660.84,30.55) scale(0.8378,1)" font-family="'Liberation Sans',Arial,sans-serif" font-size="32.39" font-weight="bold" fill="#000">(b)</text>
<g transform="scale(1.03,1)" font-family="Liberation Sans,Arial,sans-serif" font-size="29.4" fill="#000" stroke="#000" stroke-width="1.2" text-anchor="end"><text id="ly0" x="352.04" y="267.55">0</text><text id="ly1" x="352.04" y="195.28"><tspan font-family="NanumGothic,Liberation Sans,sans-serif">1</tspan></text><text id="ly2" x="352.04" y="123.01">2</text><text id="ly3" x="352.04" y="50.74">3</text></g>
<g transform="scale(1.03,1)" font-family="Liberation Sans,Arial,sans-serif" font-size="29.4" fill="#000" stroke="#000" stroke-width="1.2" text-anchor="middle"><text id="lx7" x="371.07" y="309.6">7</text><text id="lx8" x="442.57" y="309.6">8</text><text id="lx9" x="514.08" y="309.6">9</text><text id="lx10" x="585.00" y="309.6" letter-spacing="-1.2"><tspan font-family="NanumGothic,Liberation Sans,sans-serif">1</tspan>0</text><text id="lx11" x="658.25" y="309.6" letter-spacing="-1.2"><tspan font-family="NanumGothic,Liberation Sans,sans-serif">1</tspan><tspan font-family="NanumGothic,Liberation Sans,sans-serif">1</tspan></text></g>
</svg>
</body></html>
